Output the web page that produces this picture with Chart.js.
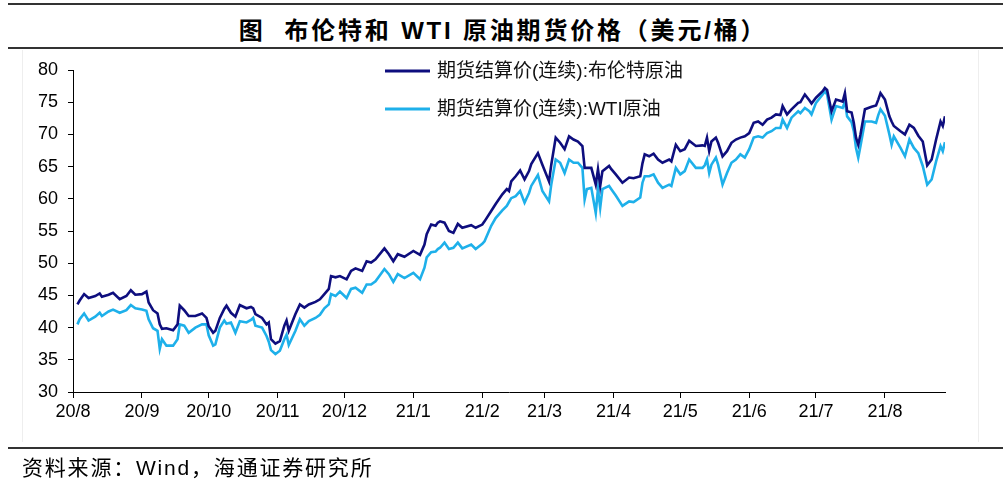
<!DOCTYPE html>
<html>
<head>
<meta charset="utf-8">
<script src="https://cdn.jsdelivr.net/npm/chart.js@4/dist/chart.umd.min.js"></script>
<style>
  html, body { margin: 0; padding: 0; background: #fff; }
  #wrap { position: relative; width: 1006px; height: 480px; overflow: hidden; }
  #frame { position: absolute; left: 22px; top: 50px; width: 955px; height: 392px; border-left: 1px solid #eee; border-right: 1px solid #eee; }
  canvas { position: absolute; left: 0; top: 0; }
  .rule { position: absolute; left: 8px; width: 995px; height: 2px; background: #333; }
  #title { position: absolute; left: 0; width: 1006px; top: 11px; text-align: center;
           font: bold 24px "Liberation Sans", "Noto Sans CJK SC"; letter-spacing: 2.8px; color: #000; }
  #source { position: absolute; left: 22px; top: 451px; font: 21px "Liberation Sans", "Noto Sans CJK SC";
            letter-spacing: 1.8px; color: #000; }
</style>
</head>
<body>
<div id="wrap">
  <div id="frame"></div>
  <div class="rule" style="top:3px"></div>
  <div id="title">图&nbsp;&nbsp;布伦特和 WTI 原油期货价格（美元/桶）</div>
  <div class="rule" style="top:47px"></div>
  <canvas id="chart" width="1006" height="480"></canvas>
  <div class="rule" style="top:447px"></div>
  <div id="source">资料来源：Wind，海通证券研究所</div>
</div>
<script>
// ── Data ──────────────────────────────────────────────────────────────────────

const startDate = '2020-08-01';
const endDate = '2021-08-28';

const tickDates = ['2020-08-01', '2020-09-01', '2020-10-01', '2020-11-01', '2020-12-01', '2021-01-01',
  '2021-02-01', '2021-03-01', '2021-04-01', '2021-05-01', '2021-06-01', '2021-07-01', '2021-08-01'];
const tickLabels = ['20/8', '20/9', '20/10', '20/11', '20/12', '21/1', '21/2', '21/3', '21/4', '21/5', '21/6', '21/7', '21/8'];

const dates = [
  '2020-08-03', '2020-08-04', '2020-08-06', '2020-08-08', '2020-08-11', '2020-08-13', '2020-08-14', '2020-08-17', '2020-08-19', '2020-08-22', '2020-08-25', '2020-08-27', '2020-08-29',
  '2020-09-01', '2020-09-03', '2020-09-04', '2020-09-06', '2020-09-08', '2020-09-09', '2020-09-10', '2020-09-12', '2020-09-15', '2020-09-17', '2020-09-18', '2020-09-20', '2020-09-22', '2020-09-25', '2020-09-28', '2020-09-30',
  '2020-10-01', '2020-10-03', '2020-10-04', '2020-10-06', '2020-10-08', '2020-10-09', '2020-10-11', '2020-10-13', '2020-10-15', '2020-10-18', '2020-10-20', '2020-10-21', '2020-10-22', '2020-10-25', '2020-10-27', '2020-10-28', '2020-10-29', '2020-10-31',
  '2020-11-02', '2020-11-04', '2020-11-05', '2020-11-06', '2020-11-09', '2020-11-11', '2020-11-13', '2020-11-15', '2020-11-18', '2020-11-20', '2020-11-22', '2020-11-24', '2020-11-25', '2020-11-27', '2020-11-29',
  '2020-12-02', '2020-12-04', '2020-12-06', '2020-12-09', '2020-12-11', '2020-12-13', '2020-12-15', '2020-12-19', '2020-12-21', '2020-12-23', '2020-12-25', '2020-12-28',
  '2021-01-01', '2021-01-04', '2021-01-06', '2021-01-07', '2021-01-09', '2021-01-11', '2021-01-12', '2021-01-13', '2021-01-15', '2021-01-17', '2021-01-19', '2021-01-21', '2021-01-23', '2021-01-27', '2021-01-29',
  '2021-02-01', '2021-02-02', '2021-02-05', '2021-02-07', '2021-02-10', '2021-02-12', '2021-02-13', '2021-02-14', '2021-02-16', '2021-02-18', '2021-02-20', '2021-02-22', '2021-02-23', '2021-02-26', '2021-02-28',
  '2021-03-03', '2021-03-04', '2021-03-06', '2021-03-08', '2021-03-10', '2021-03-12', '2021-03-14', '2021-03-16', '2021-03-18', '2021-03-19', '2021-03-20', '2021-03-22', '2021-03-24', '2021-03-25', '2021-03-26', '2021-03-27', '2021-03-30', '2021-03-31',
  '2021-04-02', '2021-04-05', '2021-04-08', '2021-04-10', '2021-04-13', '2021-04-14', '2021-04-15', '2021-04-17', '2021-04-19', '2021-04-21', '2021-04-23', '2021-04-26', '2021-04-27', '2021-04-29',
  '2021-05-01', '2021-05-03', '2021-05-05', '2021-05-08', '2021-05-11', '2021-05-12', '2021-05-13', '2021-05-14', '2021-05-15', '2021-05-17', '2021-05-18', '2021-05-20', '2021-05-22', '2021-05-24', '2021-05-26', '2021-05-28', '2021-05-30',
  '2021-06-01', '2021-06-03', '2021-06-05', '2021-06-07', '2021-06-09', '2021-06-11', '2021-06-13', '2021-06-15', '2021-06-16', '2021-06-18', '2021-06-20', '2021-06-23', '2021-06-24', '2021-06-26', '2021-06-28', '2021-06-29',
  '2021-07-01', '2021-07-04', '2021-07-05', '2021-07-06', '2021-07-08', '2021-07-10', '2021-07-13', '2021-07-14', '2021-07-15', '2021-07-17', '2021-07-18', '2021-07-19', '2021-07-20', '2021-07-21', '2021-07-23', '2021-07-26', '2021-07-28', '2021-07-29', '2021-07-30',
  '2021-08-01', '2021-08-03', '2021-08-04', '2021-08-05', '2021-08-08', '2021-08-10', '2021-08-12', '2021-08-14', '2021-08-16', '2021-08-18', '2021-08-20', '2021-08-22', '2021-08-24', '2021-08-26', '2021-08-27', '2021-08-28',
];

const brent = [
  43.6, 44.2, 45.2, 44.6, 44.9, 45.3, 44.8, 45.1, 45.4, 44.4, 44.9, 45.8, 45.1,
  45.2, 45.6, 43.9, 42.7, 42.2, 40.5, 39.8, 39.9, 39.6, 40.5, 43.4, 42.7, 41.8, 41.8, 42.2, 41.5,
  40.2, 39.2, 39.5, 41.5, 42.9, 43.4, 42.3, 41.7, 43.5, 43.0, 43.2, 43.0, 42.1, 41.5, 40.5, 40.8, 38.2, 37.5,
  37.9, 40.3, 41.1, 39.5, 42.1, 43.6, 43.1, 43.6, 44.0, 44.4, 45.2, 46.0, 48.0, 47.8, 48.0,
  47.5, 48.8, 49.2, 48.8, 50.3, 50.1, 50.6, 52.3, 51.4, 50.3, 51.4, 51.0,
  51.9, 51.3, 52.9, 54.5, 56.0, 55.8, 56.3, 56.5, 56.3, 55.0, 54.7, 56.1, 55.5, 55.9, 55.5,
  56.0, 56.5, 58.1, 59.2, 60.7, 61.5, 61.2, 62.7, 63.5, 64.4, 63.0, 64.3, 65.4, 67.1, 65.3,
  62.7, 65.3, 69.5, 68.7, 67.7, 69.7, 69.2, 68.9, 68.2, 64.8, 64.8, 64.8, 62.2, 64.6, 62.0, 64.3, 65.1, 64.6,
  63.8, 62.5, 63.3, 63.2, 63.5, 65.5, 66.9, 66.6, 67.0, 66.1, 65.6, 66.1, 65.8, 68.4,
  67.4, 67.7, 69.0, 68.2, 68.3, 68.2, 69.5, 67.4, 68.9, 69.5, 68.7, 66.6, 67.4, 68.7, 69.2, 69.5, 69.7,
  70.2, 71.8, 72.0, 71.5, 72.3, 72.6, 73.1, 73.0, 74.4, 73.1, 73.9, 74.9, 75.0, 76.2, 75.3, 74.8,
  75.7, 76.7, 77.2, 76.9, 73.6, 75.4, 75.1, 76.4, 73.6, 73.4, 71.8, 69.5, 68.4, 70.0, 73.9, 74.3, 74.5, 75.4, 76.4,
  75.4, 72.8, 72.0, 71.3, 70.5, 70.0, 71.5, 71.0, 69.8, 68.9, 65.2, 66.1, 69.2, 72.0, 71.3, 72.8,
];

const wti = [
  40.5, 41.3, 42.2, 41.1, 41.7, 42.3, 41.8, 42.5, 42.8, 42.3, 42.7, 43.5, 43.0,
  42.8, 42.6, 41.3, 39.9, 39.5, 36.7, 38.2, 37.2, 37.2, 38.2, 40.5, 40.3, 39.2, 40.0, 40.5, 40.5,
  38.8, 37.2, 37.4, 40.0, 41.1, 40.6, 40.8, 39.2, 41.0, 40.8, 41.2, 41.5, 40.3, 40.0, 38.7, 37.8, 36.5, 35.9,
  36.4, 38.2, 38.9, 37.3, 39.5, 41.3, 40.3, 41.0, 41.5, 42.0, 43.0, 43.6, 45.2, 44.9, 45.6,
  44.6, 46.0, 46.2, 45.4, 46.7, 46.7, 47.2, 49.1, 48.3, 47.1, 48.3, 47.7,
  48.5, 47.5, 49.3, 50.9, 51.7, 51.8, 52.2, 52.4, 53.2, 52.2, 52.4, 53.2, 52.3, 52.9, 52.2,
  53.0, 53.4, 55.8, 57.0, 58.2, 58.9, 59.5, 60.1, 60.4, 61.2, 59.4, 60.9, 62.0, 63.7, 61.2,
  59.6, 62.2, 66.1, 65.6, 64.0, 66.1, 65.6, 65.6, 64.8, 59.9, 61.5, 61.7, 57.8, 61.5, 58.6, 61.5, 62.0, 61.5,
  60.5, 58.9, 59.6, 59.5, 60.2, 62.5, 63.5, 63.5, 63.8, 62.5, 61.7, 62.2, 62.0, 64.8,
  63.8, 64.3, 66.1, 64.8, 64.8, 65.2, 66.1, 64.0, 65.3, 66.4, 65.3, 62.2, 64.0, 65.6, 66.1, 66.9, 66.4,
  67.7, 69.5, 69.7, 69.5, 70.2, 70.5, 71.0, 71.0, 72.3, 71.0, 72.6, 73.6, 73.3, 74.1, 73.6, 73.1,
  74.9, 76.2, 76.7, 76.2, 72.3, 74.4, 74.1, 75.1, 72.8, 71.9, 70.5, 67.9, 66.4, 68.2, 72.0, 72.0, 71.8, 73.0, 73.9,
  72.9, 70.0, 68.4, 69.7, 67.9, 66.6, 69.2, 67.9, 67.1, 65.1, 62.2, 63.0, 65.8, 68.2, 67.4, 68.8,
];

const seriesNames = ['期货结算价(连续):布伦特原油', '期货结算价(连续):WTI原油'];

// ── Helpers ───────────────────────────────────────────────────────────────────

const DAY = 86400000;
function dayOf(d) {
  return (Date.parse(d) - Date.parse(startDate)) / DAY;
}

const axisFont = { family: "'Liberation Sans', Arial, sans-serif", size: 18 };

// legend drawn inside the plot area, like the reference
const insideLegend = {
  id: 'insideLegend',
  afterDraw(chart) {
    const ctx = chart.ctx;
    chart.data.datasets.forEach((ds, i) => {
      const y = 71 + i * 38;
      ctx.save();
      ctx.strokeStyle = ds.borderColor;
      ctx.lineWidth = 3;
      ctx.beginPath();
      ctx.moveTo(385, y);
      ctx.lineTo(430, y);
      ctx.stroke();
      ctx.fillStyle = '#111';
      ctx.font = '19px "Liberation Sans", "Noto Sans CJK SC"';
      ctx.textBaseline = 'middle';
      ctx.fillText(ds.label, 437, y + 1);
      ctx.restore();
    });
  }
};

// ── Chart ─────────────────────────────────────────────────────────────────────

new Chart(document.getElementById('chart'), {
  type: 'line',
  data: {
    datasets: [
      {
        label: seriesNames[0],
        data: dates.map((d, i) => ({ x: dayOf(d), y: brent[i] })),
        borderColor: '#0e0e7e',
        borderWidth: 2.6,
      },
      {
        label: seriesNames[1],
        data: dates.map((d, i) => ({ x: dayOf(d), y: wti[i] })),
        borderColor: '#1eb0ea',
        borderWidth: 2.6,
      },
    ]
  },
  options: {
    responsive: false,
    animation: false,
    layout: { padding: { top: 70, right: 61, bottom: 0, left: 0 } },
    elements: { point: { radius: 0 }, line: { tension: 0 } },
    plugins: { legend: { display: false }, tooltip: { enabled: false } },
    scales: {
      x: {
        type: 'linear',
        min: 0,
        max: dayOf(endDate),
        afterBuildTicks: scale => { scale.ticks = tickDates.map(d => ({ value: dayOf(d) })); },
        afterFit: scale => { scale.height = 88; },
        ticks: {
          autoSkip: false, maxRotation: 0, color: '#000', font: axisFont, padding: 3,
          callback: (v, i) => tickLabels[i],
        },
        grid: { drawOnChartArea: false, color: '#000', tickLength: 6 },
        border: { color: '#000', width: 1 },
      },
      y: {
        min: 30,
        max: 80,
        afterFit: scale => { scale.width = 73; },
        ticks: { stepSize: 5, color: '#000', font: axisFont, padding: 10 },
        grid: { drawOnChartArea: false, color: '#000', tickLength: 5 },
        border: { color: '#000', width: 1 },
      },
    },
  },
  plugins: [insideLegend],
});
</script>
</body>
</html>
